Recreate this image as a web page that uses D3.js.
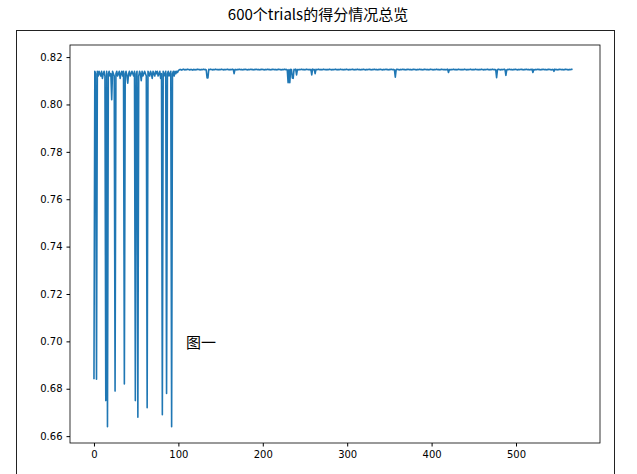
<!DOCTYPE html><html><head><meta charset="utf-8"><script src="https://cdn.jsdelivr.net/npm/d3@7"></script>
<style>body{margin:0;background:#fff}</style></head><body><svg id="c" width="637" height="474"></svg><script>
const title="600个trials的得分情况总览";
const note="图一";
const xTicks=[0,100,200,300,400,500];
const yTicks=[0.66,0.68,0.70,0.72,0.74,0.76,0.78,0.80,0.82];
const scoresEarly=[0.684,0.814,0.813,0.684,0.814,0.812,0.814,0.813,0.812,0.814,0.811,0.813,0.814,0.812,0.675,0.814,0.664,0.813,0.814,0.812,0.813,0.802,0.814,0.813,0.812,0.679,0.813,0.814,0.812,0.813,
0.814,0.811,0.813,0.814,0.812,0.814,0.682,0.813,0.814,0.812,0.809,0.813,0.814,0.812,0.813,0.814,0.813,0.812,0.814,0.675,0.813,0.814,0.668,0.812,0.814,0.813,0.810,0.814,0.812,0.813,
0.814,0.813,0.812,0.672,0.814,0.813,0.812,0.814,0.813,0.811,0.814,0.813,0.812,0.814,0.813,0.814,0.812,0.813,0.814,0.811,0.813,0.669,0.814,0.812,0.813,0.814,0.678,0.813,0.814,0.812,
0.813,0.814,0.664,0.813,0.814,0.812,0.814,0.813,0.814,0.8135];
const scoresLate=[0.8143,0.8146,0.8148,0.8147,0.8145,0.8148,0.8149,0.8147,0.8146,0.8148,0.8147,0.8149,0.8148,0.8146,0.8147,0.8148,0.8147,0.8145,0.8148,0.8147,
0.8146,0.8148,0.8147,0.8149,0.8148,0.8147,0.8146,0.8148,0.8147,0.8148,0.8149,0.8147,0.8148,0.8146,0.8112,0.8147,0.8148,0.8147,0.8149,0.8148,
0.8147,0.8146,0.8148,0.8147,0.8149,0.8148,0.8147,0.8148,0.8146,0.8148,0.8147,0.8149,0.8148,0.8147,0.8146,0.8148,0.8147,0.8148,0.8149,0.8147,
0.8148,0.8146,0.8148,0.8147,0.8149,0.8148,0.8130,0.8147,0.8148,0.8146,0.8148,0.8147,0.8149,0.8148,0.8147,0.8148,0.8146,0.8148,0.8147,0.8149,
0.8148,0.8147,0.8146,0.8148,0.8147,0.8148,0.8149,0.8147,0.8148,0.8146,0.8148,0.8147,0.8149,0.8148,0.8147,0.8148,0.8146,0.8148,0.8147,0.8149,
0.8148,0.8147,0.8146,0.8148,0.8147,0.8148,0.8149,0.8147,0.8148,0.8146,0.8148,0.8147,0.8149,0.8148,0.8147,0.8148,0.8146,0.8148,0.8147,0.8149,
0.8148,0.8147,0.8146,0.8148,0.8147,0.8148,0.8149,0.8147,0.8148,0.8146,0.8092,0.8147,0.8149,0.8148,0.8147,0.8112,0.8146,0.8148,0.8147,0.8149,
0.8148,0.8147,0.8146,0.8148,0.8147,0.8148,0.8149,0.8147,0.8148,0.8146,0.8148,0.8147,0.8149,0.8148,0.8147,0.8148,0.8146,0.8148,0.8125,0.8149,
0.8148,0.8147,0.8146,0.8148,0.8147,0.8148,0.8149,0.8147,0.8148,0.8146,0.8148,0.8147,0.8149,0.8148,0.8147,0.8148,0.8146,0.8148,0.8147,0.8149,
0.8148,0.8147,0.8146,0.8148,0.8147,0.8148,0.8149,0.8147,0.8148,0.8146,0.8148,0.8147,0.8149,0.8148,0.8147,0.8148,0.8146,0.8148,0.8147,0.8149,
0.8148,0.8147,0.8146,0.8148,0.8147,0.8148,0.8149,0.8147,0.8148,0.8146,0.8148,0.8147,0.8149,0.8148,0.8147,0.8148,0.8146,0.8148,0.8147,0.8149,
0.8148,0.8147,0.8146,0.8148,0.8147,0.8148,0.8149,0.8147,0.8148,0.8146,0.8148,0.8147,0.8149,0.8148,0.8147,0.8148,0.8146,0.8148,0.8147,0.8149,
0.8148,0.8147,0.8146,0.8148,0.8147,0.8148,0.8149,0.8147,0.8148,0.8146,0.8148,0.8147,0.8149,0.8148,0.8147,0.8148,0.8146,0.8148,0.8147,0.8149,
0.8148,0.8147,0.8146,0.8148,0.8147,0.8148,0.8149,0.8147,0.8148,0.8146,0.8148,0.8147,0.8149,0.8148,0.8147,0.8148,0.8146,0.8148,0.8147,0.8149,
0.8148,0.8147,0.8146,0.8148,0.8147,0.8148,0.8149,0.8147,0.8148,0.8146,0.8148,0.8147,0.8149,0.8148,0.8147,0.8148,0.8146,0.8148,0.8147,0.8149,
0.8148,0.8147,0.8146,0.8148,0.8147,0.8148,0.8149,0.8147,0.8148,0.8146,0.8148,0.8147,0.8149,0.8148,0.8147,0.8148,0.8146,0.8148,0.8147,0.8149,
0.8148,0.8147,0.8146,0.8148,0.8147,0.8148,0.8149,0.8147,0.8148,0.8146,0.8148,0.8147,0.8149,0.8148,0.8147,0.8148,0.8146,0.8148,0.8147,0.8149,
0.8148,0.8147,0.8146,0.8148,0.8147,0.8148,0.8149,0.8147,0.8148,0.8146,0.8148,0.8147,0.8149,0.8148,0.8147,0.8148,0.8146,0.8148,0.8147,0.8149,
0.8148,0.8147,0.8146,0.8148,0.8147,0.8148,0.8149,0.8147,0.8148,0.8146,0.8148,0.8147,0.8149,0.8148,0.8147,0.8148,0.8146,0.8148,0.8147,0.8149,
0.8148,0.8147,0.8146,0.8148,0.8147,0.8148,0.8149,0.8147,0.8148,0.8146,0.8148,0.8147,0.8149,0.8148,0.8147,0.8148,0.8146,0.8148,0.8147,0.8149,
0.8148,0.8147,0.8146,0.8148,0.8147,0.8148,0.8149,0.8147,0.8148,0.8146,0.8148,0.8147,0.8149,0.8148,0.8147,0.8148,0.8146,0.8148,0.8147,0.8149,
0.8148,0.8147,0.8146,0.8148,0.8147,0.8148,0.8149,0.8147,0.8148,0.8146,0.8148,0.8147,0.8149,0.8148,0.8147,0.8148,0.8146,0.8148,0.8147,0.8149,
0.8148,0.8147,0.8146,0.8148,0.8147,0.8148,0.8149,0.8147,0.8148,0.8146,0.8148,0.8147,0.8149,0.8148,0.8147,0.8148,0.8146,0.8148,0.8147,0.8149,
0.8148,0.8147,0.8146,0.8148,0.8147,0.8148,0.8149,0.8147,0.8148,0.8146,0.8148,0.8147,0.8149,0.8148,0.8147,0.8148,0.8146,0.8148,0.8147,0.8149];
const dips=[[135,0.8112],[232,0.8092],[236,0.8110],[240,0.8125],[258,0.8125],[262,0.8130],[357,0.8115],[420,0.8135],[477,0.8113],[488,0.8123],[520,0.8135],[545,0.8140]];
const scores=scoresEarly.concat(scoresLate).slice(0,568);
dips.forEach(([i,v])=>{if(i<scores.length)scores[i]=v;});

const svg=d3.select("#c");
const L=70,R=600,T=45,B=443;
const x=d3.scaleLinear().domain([-28.4,599.5]).range([L,R]);
const y=d3.scaleLinear().domain([0.6571,0.8251]).range([B,T]);
svg.append("rect").attr("x",16.5).attr("y",30.5).attr("width",598).attr("height",460).attr("fill","none").attr("stroke","#222");
svg.append("text").attr("x",318).attr("y",20).attr("text-anchor","middle").attr("font-family","Noto Sans CJK SC").attr("font-size",15).text(title);
const f="DejaVu Sans";
const xa=svg.append("g").attr("transform",`translate(0,${B})`).call(d3.axisBottom(x).tickValues(xTicks).tickSize(3.5).tickPadding(4));
const ya=svg.append("g").attr("transform",`translate(${L},0)`).call(d3.axisLeft(y).tickValues(yTicks).tickSize(3.5).tickPadding(4).tickFormat(d3.format(".2f")));
[xa,ya].forEach(a=>{a.selectAll("text").attr("font-family",f).attr("font-size",10).attr("fill","#000");a.select(".domain").remove();});
svg.append("path").datum(scores).attr("fill","none").attr("stroke","#1f77b4").attr("stroke-width",1.6).attr("stroke-linejoin","round")
 .attr("d",d3.line().x((d,i)=>x(i)).y(d=>y(d)));
svg.append("rect").attr("x",L).attr("y",T).attr("width",R-L).attr("height",B-T).attr("fill","none").attr("stroke","#000").attr("stroke-width",0.8);
svg.append("text").attr("x",186).attr("y",348).attr("font-family","Noto Sans CJK SC").attr("font-size",15).text(note);
</script></body></html>
